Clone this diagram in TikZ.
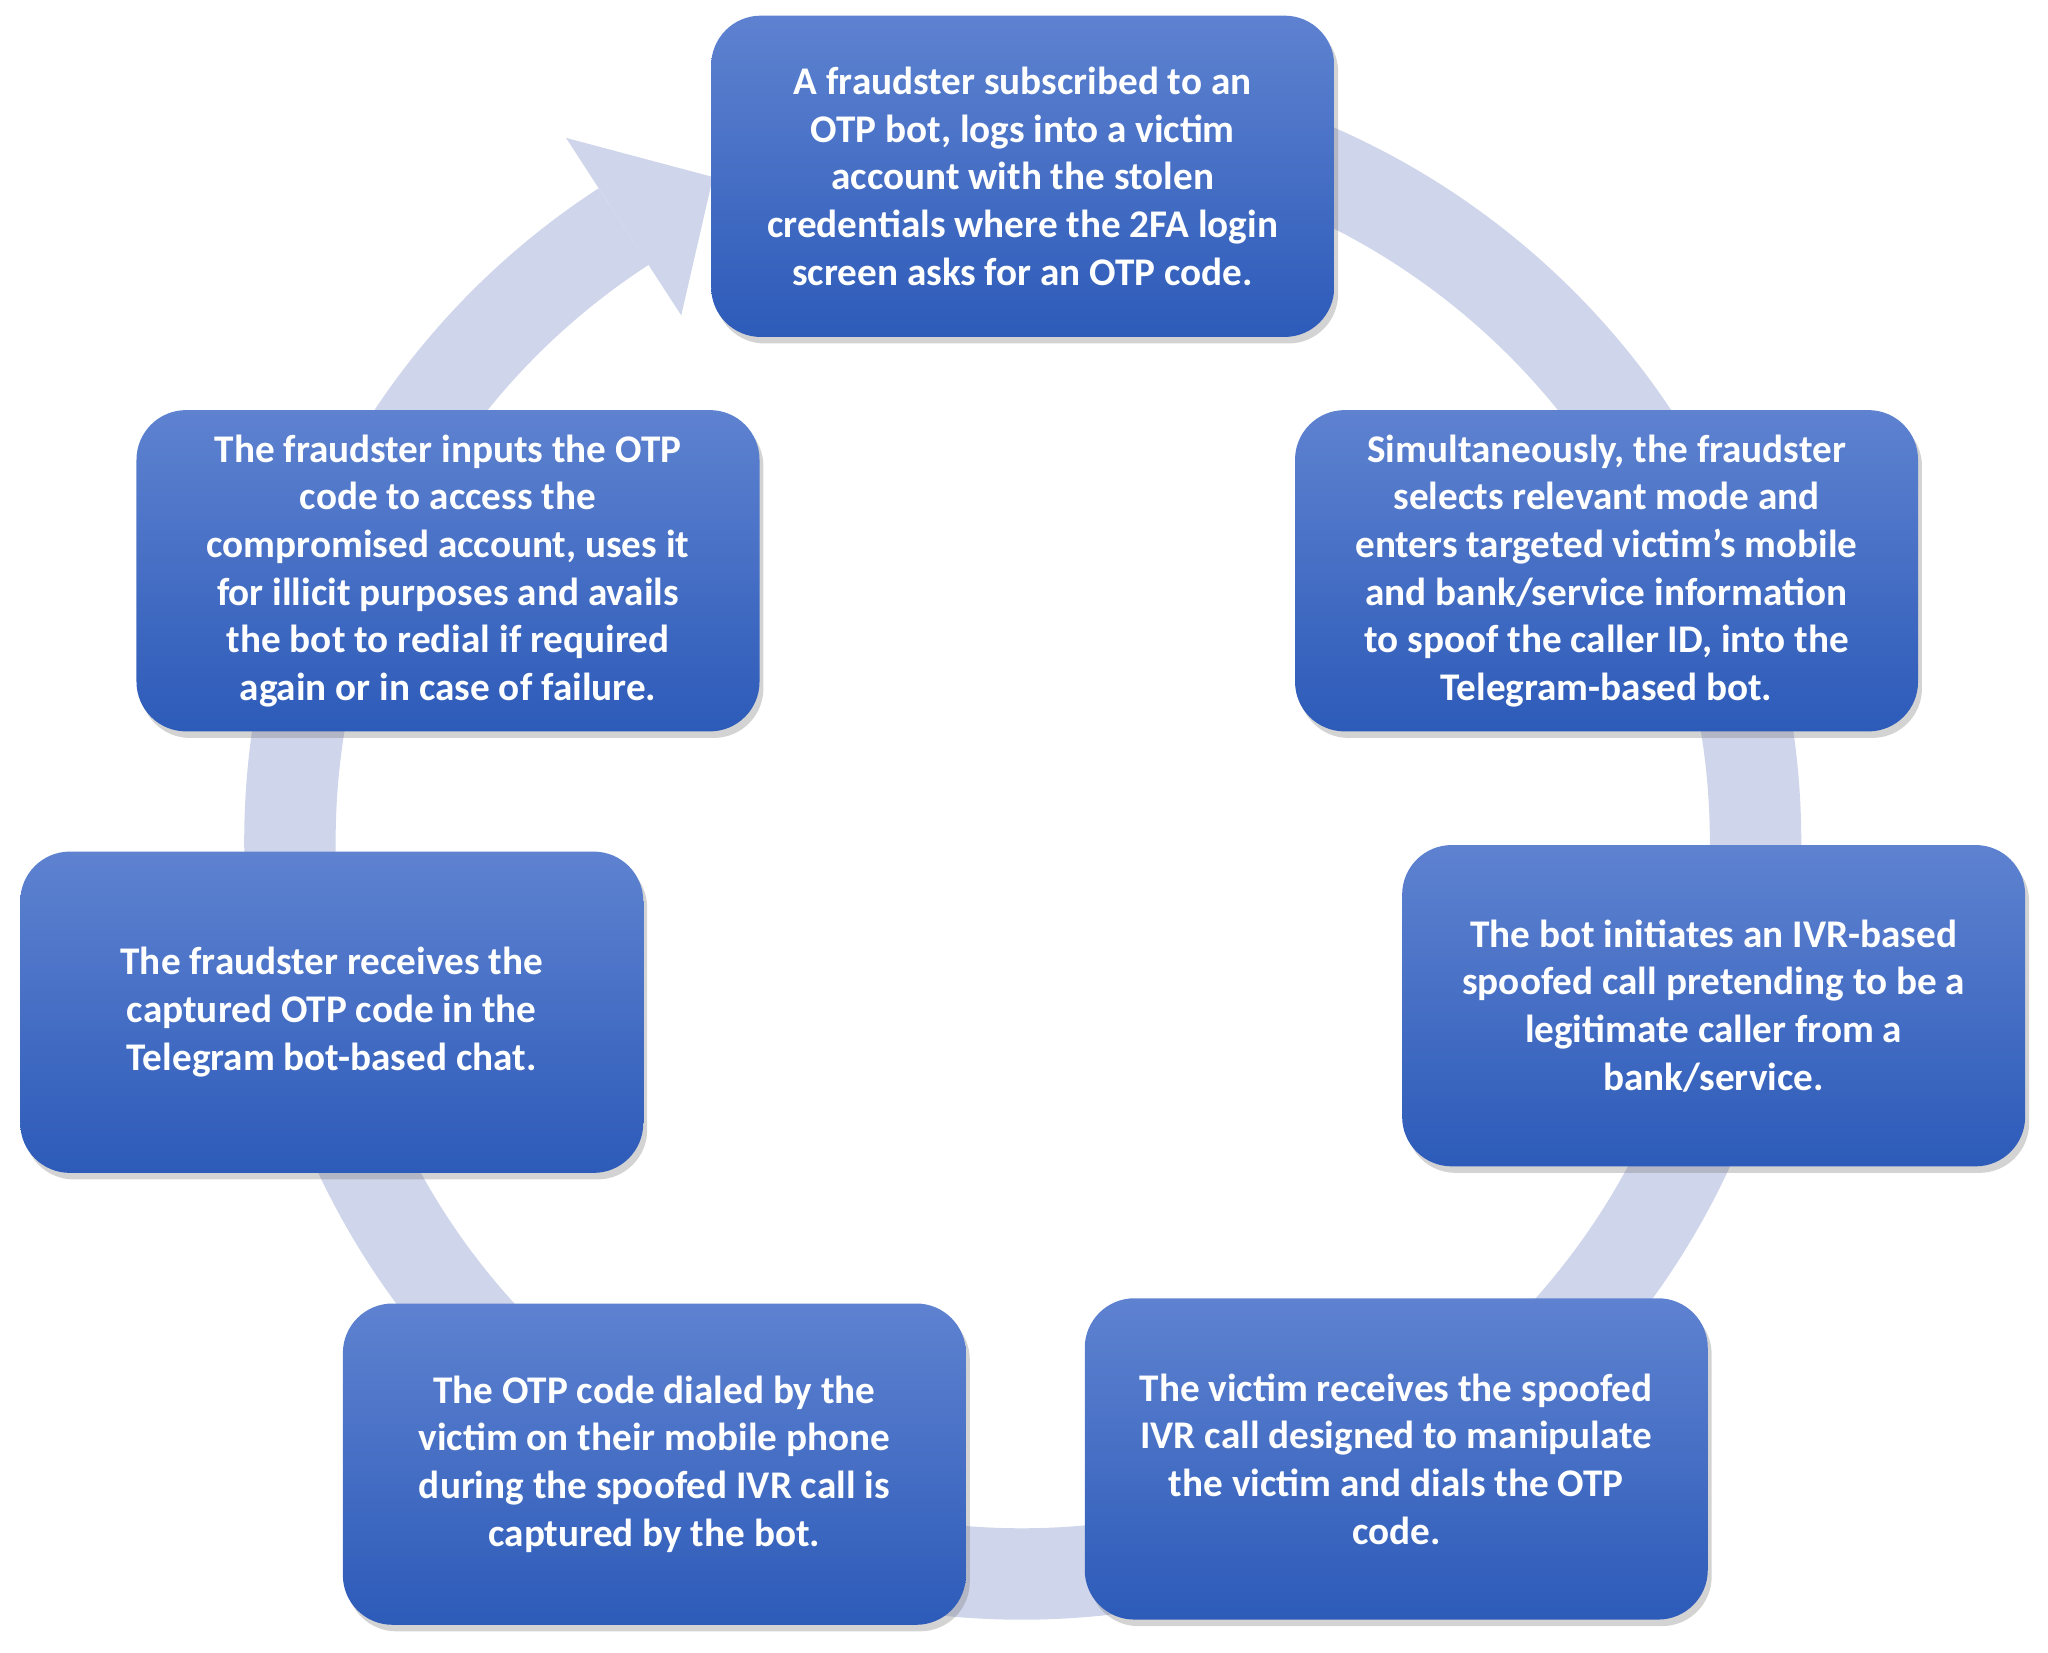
\documentclass[tikz,border=0pt]{standalone}
\usepackage{fontspec}
\setmainfont{Carlito}
\usetikzlibrary{shadows}
\definecolor{ring}{HTML}{CFD5EA}
\definecolor{btop}{HTML}{5E82D0}
\definecolor{bbot}{HTML}{2D5BB9}
\newcommand{\apos}{\char"0027\relax}
\begin{document}
\begin{tikzpicture}[x=1pt,y=1pt,
  stage/.style={rounded corners=38pt,minimum width=477pt,minimum height=246pt,
    top color=btop,bottom color=bbot,draw=none,text=white,align=center,
    font=\fontsize{30}{36.5}\selectfont\bfseries,
    drop shadow={shadow xshift=3pt,shadow yshift=-5pt,opacity=0.35}}]
\useasboundingbox (0,0) rectangle (1568,1265);
\coordinate (c) at (783,621);
\draw[ring,line width=70pt] ([shift={(100:561)}]c) arc[start angle=100,end angle=-237,radius=561];
\fill[ring] ([shift={(123:480)}]c) -- ([shift={(123:642)}]c) -- ([shift={(115:561)}]c) -- cycle;
\node[stage] (n1) at (783,1130) {A fraudster subscribed to an\\OTP bot, logs into a victim\\account with the stolen\\credentials where the 2FA login\\screen asks for an OTP code.};
\node[stage] (n2) at (1230,828) {Simultaneously, the fraudster\\selects relevant mode and\\enters targeted victim\apos s mobile\\and bank/service information\\to spoof the caller ID, into the\\Telegram-based bot.};
\node[stage] (n3) at (1312,495) {The bot initiates an IVR-based\\spoofed call pretending to be a\\legitimate caller from a\\bank/service.};
\node[stage] (n4) at (1069,148) {The victim receives the spoofed\\IVR call designed to manipulate\\the victim and dials the OTP\\code.};
\node[stage] (n5) at (501,144) {The OTP code dialed by the\\victim on their mobile phone\\during the spoofed IVR call is\\captured by the bot.};
\node[stage] (n6) at (254,490) {The fraudster receives the\\captured OTP code in the\\Telegram bot-based chat.};
\node[stage] (n7) at (343,828) {The fraudster inputs the OTP\\code to access the\\compromised account, uses it\\for illicit purposes and avails\\the bot to redial if required\\again or in case of failure.};
\end{tikzpicture}
\end{document}
